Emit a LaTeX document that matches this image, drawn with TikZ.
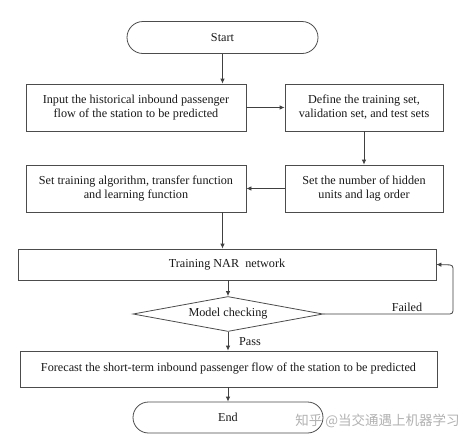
\documentclass[tikz,border=0pt]{standalone}
\usepackage{fontspec}
\setmainfont{Liberation Serif}
\newfontfamily\cjkfont{Noto Sans CJK SC}
\usetikzlibrary{shapes.geometric,arrows.meta}
\begin{document}
\begin{tikzpicture}[x=1pt,y=-1pt,
  every node/.style={font=\fontsize{12.2}{14.2}\selectfont, text=black!90, inner sep=0pt, align=center},
  boxstyle/.style={draw=black!70, line width=0.8pt, rectangle},
  termstyle/.style={draw=black!70, line width=0.8pt, rectangle, rounded corners=15.5pt},
  decstyle/.style={draw=black!70, line width=0.8pt, diamond, aspect=5.4},
  conn/.style={draw=black!75, line width=0.8pt, -{Latex[length=5pt,width=4.5pt]}},
  lbl/.style={font=\fontsize{12.2}{14.2}\selectfont}
]
\useasboundingbox (0,0) rectangle (474,440);
\fill[white] (0,0) rectangle (474,440);

\node[termstyle, minimum width=191pt, minimum height=32pt, rounded corners=16pt] (start) at (222.5,37.5) {Start};
\node[boxstyle, minimum width=220pt, minimum height=47pt] (input) at (136,107.5) {Input the historical inbound passenger\\flow of the station to be predicted};
\node[boxstyle, minimum width=158pt, minimum height=47pt] (define) at (364,107.5) {Define the training set,\\validation set, and test sets};
\node[boxstyle, minimum width=158pt, minimum height=47pt] (setnum) at (364,188.5) {Set the number of hidden\\units and lag order};
\node[boxstyle, minimum width=220pt, minimum height=47pt] (settrain) at (136,188.5) {Set training algorithm, transfer function\\and learning function};
\node[boxstyle, minimum width=418pt, minimum height=31pt] (train) at (227,264.5) {Training NAR\ \ network};
\node[decstyle, minimum width=190pt, minimum height=35pt] (check) at (228,314) {Model checking};
\node[boxstyle, minimum width=417pt, minimum height=36pt] (forecast) at (228.5,369) {Forecast the short-term inbound passenger flow of the station to be predicted};
\node[termstyle, minimum width=190pt, minimum height=31pt] (end) at (228,417.5) {End};

\coordinate (fa) at (453,314);
\coordinate (fb) at (453,265);

\draw[conn] (start.south) -- (start.south |- input.north);
\draw[conn] (input.east) -- (define.west);
\draw[conn] (define.south) -- (setnum.north);
\draw[conn] (setnum.west) -- (settrain.east);
\draw[conn] (settrain.south -| start.south) -- (train.north -| start.south);
\draw[conn] (train.south -| check.north) -- (check.north);
\draw[conn] (check.south) -- (forecast.north -| check.south);
\draw[conn] (forecast.south -| end.north) -- (end.north);
\draw[conn, rounded corners=3pt] (check.east) -- (fa) -- (fb) -- (train.east);

\node[lbl] (failed) at (407,307) {Failed};
\node[lbl, anchor=west] (pass) at (239,342) {Pass};

\node[font=\cjkfont\fontsize{13.5}{15}\selectfont, text=black!30] (wm) at (377.5,421) {知乎 @当交通遇上机器学习};
\end{tikzpicture}
\end{document}
